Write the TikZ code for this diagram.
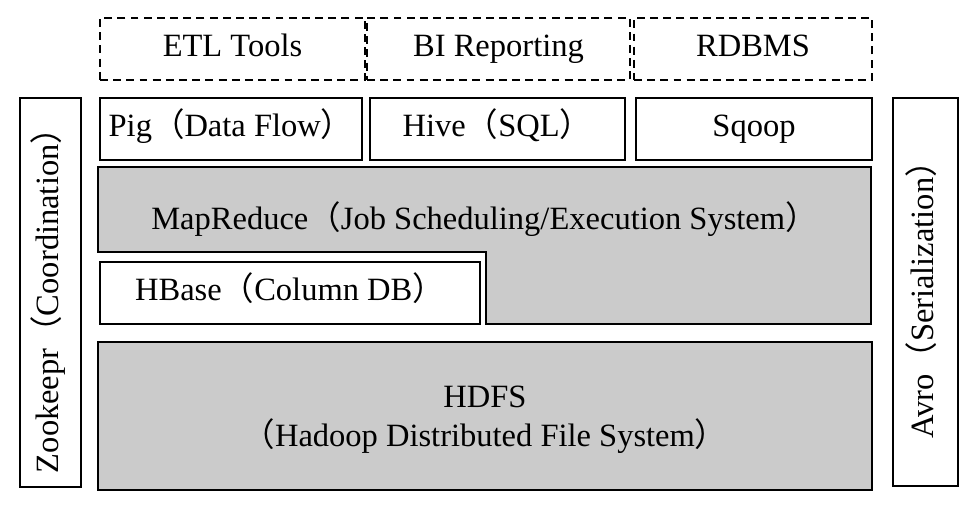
\documentclass[tikz,border=0pt]{standalone}
\usepackage{fontspec}
\setmainfont{Liberation Serif}
\newfontfamily\cjk{Noto Sans CJK SC}
\usepackage{tikz}
\usetikzlibrary{positioning}
\definecolor{hgray}{RGB}{203,203,203}
\newcommand{\zlp}{{\cjk （}}
\newcommand{\zrp}{{\cjk ）}}

\begin{document}
\begin{tikzpicture}[
    font=\fontsize{18.5}{23}\selectfont,
    label text/.style={text height=13pt, text depth=4pt},
    layer/.style={draw, line width=1pt, minimum height=1.24cm, inner sep=0pt, label text},
    optional/.style={layer, dash pattern=on 4.5pt off 3pt},
    side/.style={layer, rotate=90, minimum height=1.24cm}
  ]
        \useasboundingbox (0,0) rectangle (19.32,10.24);
        % optional tools on top
        \node[optional, minimum width=5.30cm] (etl) at (4.65,9.26) {ETL Tools};
        \node[optional, minimum width=5.26cm] (bi) at (9.97,9.26) {BI Reporting};
        \node[optional, minimum width=4.76cm] (rdbms) at (15.06,9.26) {RDBMS};
        % high level tools
        \node[layer, minimum width=5.24cm] (pig) at (4.62,7.66) {Pig\zlp Data Flow\zrp};
        \node[layer, minimum width=5.10cm] (hive) at (9.95,7.66) {Hive\zlp SQL\zrp};
        \node[layer, minimum width=4.72cm] (sqoop) at (15.08,7.66) {Sqoop};
        % mapreduce (L shape) and hbase
        \draw[line width=1pt, fill=hgray] (1.96,6.90) -- (17.42,6.90) -- (17.42,3.76)
            -- (9.72,3.76) -- (9.72,5.20) -- (1.96,5.20) -- cycle;
        \node[label text] (mapreduce) at (9.69,5.80) {MapReduce\zlp Job Scheduling/Execution System\zrp};
        \node[layer, minimum width=7.60cm] (hbase) at (5.80,4.38) {HBase\zlp Column DB\zrp};
        % storage
        \node[draw, line width=1pt, fill=hgray, minimum width=15.48cm, minimum height=2.96cm,
              inner sep=0pt] (hdfs) at (9.70,1.92) {};
        \node[label text] (hdfsname) at (9.70,2.24) {HDFS};
        \node[label text] (hdfsfull) at (9.70,1.46) {\zlp Hadoop Distributed File System\zrp};
        % side bars
        \node[side, minimum width=7.78cm, minimum height=1.22cm] (zookeeper) at (1.01,4.39) {Zookeepr\zlp Coordination\zrp};
        \node[side, minimum width=7.76cm, minimum height=1.30cm] (avro) at (18.51,4.40) {Avro\zlp Serialization\zrp};
\end{tikzpicture}
\end{document}
